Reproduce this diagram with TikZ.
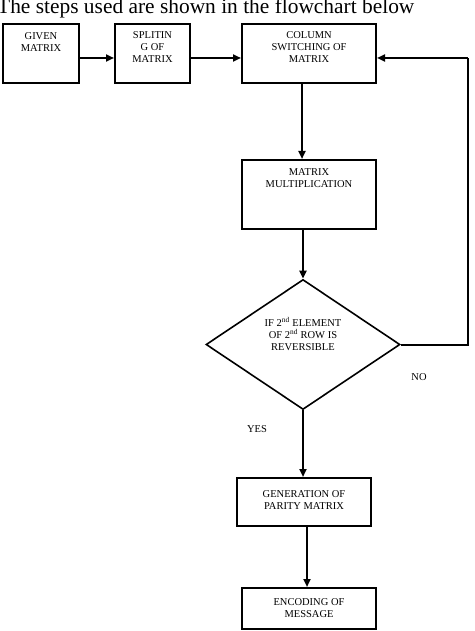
\documentclass[tikz,border=0pt]{standalone}
\usepackage{fontspec}
\setmainfont{Liberation Serif}
\usetikzlibrary{shapes.geometric,arrows.meta}
\begin{document}
\begin{tikzpicture}[x=1pt,y=-1pt,
  box/.style={draw,line width=2pt,rectangle,inner sep=0pt},
  lbl/.style={font=\fontsize{10.5}{12}\selectfont,align=center,inner sep=0pt},
  arr/.style={line width=2pt,-{Triangle[length=8pt,width=7pt]}},
  ln/.style={line width=2pt}]
\useasboundingbox (0,0) rectangle (474,631);
\node[anchor=base west,inner sep=0pt,font=\fontsize{21.4}{24}\selectfont] (title) at (-3,14) {The steps used are shown in the flowchart below};
% boxes
\node[box,minimum width=76pt,minimum height=59pt] (b1) at (41,53.5) {};
\node[box,minimum width=75pt,minimum height=59pt] (b2) at (152.5,53.5) {};
\node[box,minimum width=134pt,minimum height=59pt] (b3) at (309,53.5) {};
\node[box,minimum width=134pt,minimum height=69pt] (mm) at (309,194.5) {};
\node[draw,line width=1.6pt,shape=diamond,aspect=1.49,minimum width=194pt,minimum height=130pt,inner sep=0pt] (dm) at (303,344.5) {};
\node[box,minimum width=134pt,minimum height=48pt] (gp) at (304,502) {};
\node[box,minimum width=134pt,minimum height=41pt] (em) at (309,608.5) {};
% texts
\node[lbl,anchor=north] (t1) at (41,32) {GIVEN\\MATRIX};
\node[lbl,anchor=north] (t2) at (152.5,31) {SPLITIN\\G OF\\MATRIX};
\node[lbl,anchor=north] (t3) at (309,31) {COLUMN\\SWITCHING OF\\MATRIX};
\node[lbl,anchor=north] (t4) at (309,168) {MATRIX\\MULTIPLICATION};
\node[lbl] (t5) at (303,334) {IF 2\textsuperscript{nd} ELEMENT\\OF 2\textsuperscript{nd} ROW IS\\REVERSIBLE};
\node[lbl] (t6) at (304,500) {GENERATION OF\\PARITY MATRIX};
\node[lbl] (t7) at (309,608.5) {ENCODING OF\\MESSAGE};
\node[lbl] (no) at (419,377) {NO};
\node[lbl] (yes) at (257,429) {YES};
% connectors
\coordinate (ay) at (0,58);
\coordinate (fb) at (468,58);
\coordinate (vx) at (302,0);
\coordinate (gs) at (307,0);
\draw[arr] (b1.east |- ay) -- (b2.west |- ay);
\draw[arr] (b2.east |- ay) -- (b3.west |- ay);
\draw[arr] (b3.south -| vx) -- (mm.north -| vx);
\draw[arr] (mm.south -| dm.north) -- (dm.north);
\draw[ln] (dm.east) -- (dm.east -| fb) -- (fb);
\draw[arr] (fb) -- (b3.east |- fb);
\draw[arr] (dm.south) -- (gp.north -| dm.south);
\draw[arr] (gp.south -| gs) -- (em.north -| gs);
\end{tikzpicture}
\end{document}
